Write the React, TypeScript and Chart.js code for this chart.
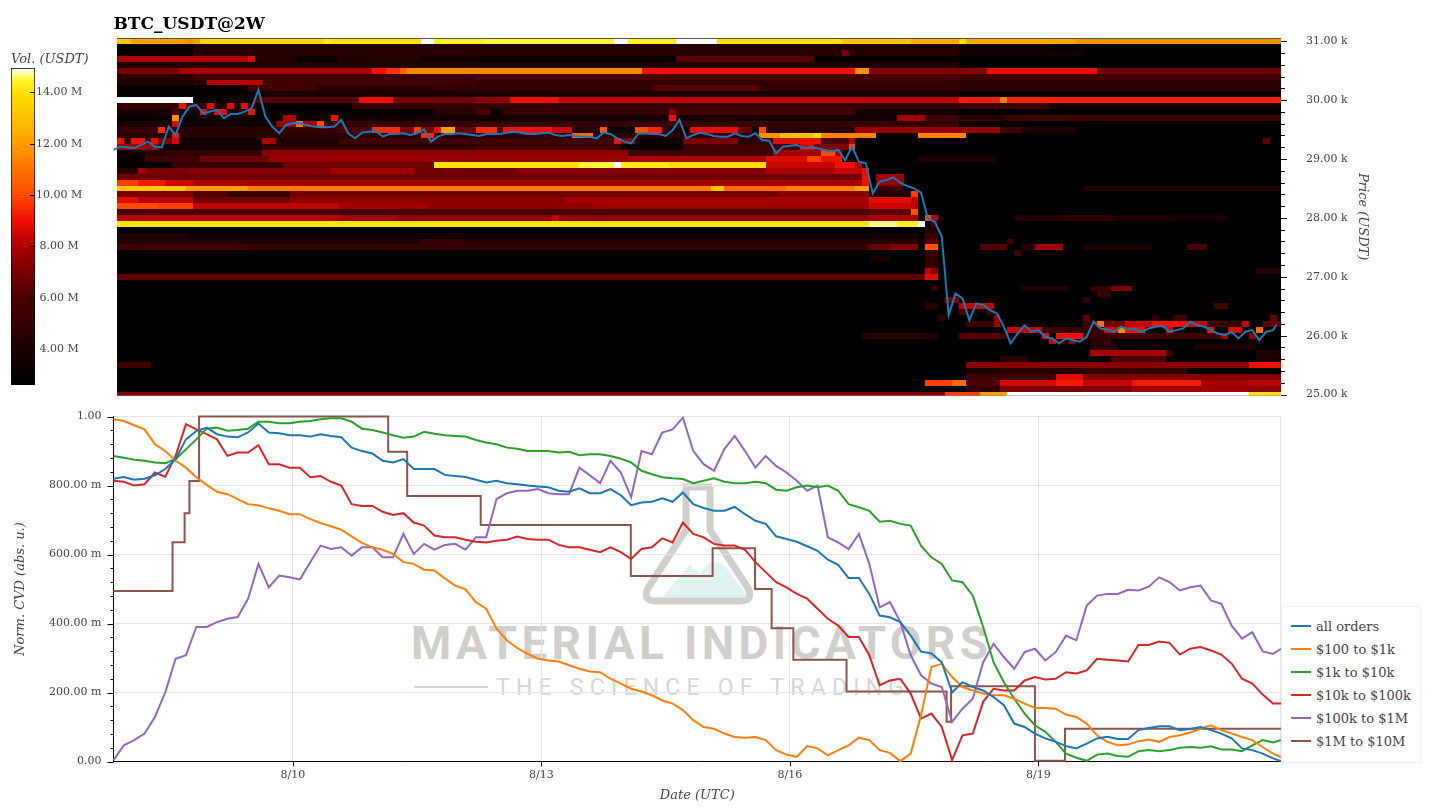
import { useEffect, useRef } from 'react';
import { Chart, registerables } from 'chart.js';

Chart.register(...registerables);

const SERIF = '"DejaVu Serif", serif';
const TEXT = '#444';

// hours since 8/10 00:00 (UTC)
const HOUR_MIN = -52;
const HOUR_MAX = 286.3;
const DATE_TICKS = [0, 72, 144, 216];
const DATE_LABELS = ['8/10', '8/13', '8/16', '8/19'];

const PRICE = [
  29154, 29210, 29199, 29182, 29239, 29295, 29210, 29199, 29551, 29409,
  29721, 29891, 29919, 29777, 29806, 29834, 29692, 29766, 29766, 29806,
  29862, 30174, 29721, 29551, 29437, 29579, 29607, 29607, 29579, 29551,
  29539, 29539, 29551, 29664, 29437, 29352, 29448, 29465, 29482, 29380,
  29426, 29426, 29437, 29409, 29437, 29505, 29295, 29380, 29426, 29426,
  29437, 29426, 29409, 29392, 29426, 29426, 29426, 29448, 29465, 29448,
  29426, 29426, 29437, 29448, 29409, 29392, 29409, 29392, 29380, 29380,
  29352, 29448, 29426, 29352, 29295, 29267, 29426, 29437, 29426, 29426,
  29392, 29494, 29664, 29352, 29409, 29448, 29426, 29392, 29380, 29380,
  29437, 29392, 29380, 29437, 29324, 29312, 29097, 29210, 29227, 29239,
  29182, 29199, 29182, 29154, 29125, 29154, 28984, 29210, 28955, 28927,
  28417, 28615, 28643, 28689, 28598, 28541, 28502, 28428, 27991, 27935,
  27679, 26349, 26718, 26633, 26264, 26548, 26519, 26434, 26377, 26151,
  25867, 26037, 26179, 26066, 26094, 25981, 25952, 25867, 25952, 25924,
  25896, 25981, 26236, 26122, 26105, 26066, 26151, 26105, 26111, 26066,
  26122, 26151, 26162, 26066, 26094, 26122, 26236, 26179, 26151, 26094,
  26037, 26009, 26066, 25952, 26066, 26094, 25924, 26066, 26094, 26190,
];
const PRICE_HOURS = PRICE.map((_, k) => (k < PRICE.length - 1 ? HOUR_MIN + 2 * k : 285));
const PRICE_TICKS = [
  25000, 25200, 25400, 25600, 25800, 26000, 26200, 26400, 26600, 26800, 27000, 27200, 27400, 27600, 27800, 28000,
  28200, 28400, 28600, 28800, 29000, 29200, 29400, 29600, 29800, 30000, 30200, 30400, 30600, 30800, 31000,
];

// colour bar of the heatmap, in millions of USDT
const VOL_MIN = 2.6;
const VOL_MAX = 14.95;
const VOL_TICKS = [4, 6, 8, 10, 12, 14];
const VOL_LEVELS = [2.6, 4, 6, 8, 9, 10, 12, 14, 14.45, 14.95];
const VOL_COLORS = [
  [0, 0, 0], [30, 0, 0], [74, 0, 0], [172, 0, 0], [238, 16, 0],
  [255, 74, 0], [255, 158, 0], [255, 226, 0], [255, 244, 40], [255, 255, 255],
];

// heatmap: one row per price, each row is flat [fromColumn, toColumn, vol] runs
const HEAT_START = -51;
const HEAT_COL_HOURS = 2;
const HEAT_COLS = 169;
const HEAT_PRICES = [
  31000, 30900, 30800, 30700, 30600, 30500, 30400, 30300, 30200, 30100,
  30000, 29900, 29800, 29700, 29600, 29500, 29400, 29300, 29200, 29100,
  29000, 28900, 28800, 28700, 28600, 28500, 28400, 28300, 28200, 28100,
  28000, 27900, 27800, 27700, 27600, 27500, 27400, 27300, 27200, 27100,
  27000, 26900, 26800, 26700, 26600, 26500, 26400, 26300, 26200, 26100,
  26000, 25900, 25800, 25700, 25600, 25500, 25400, 25300, 25200, 25100, 25000,
];
const HEAT_RUNS = [
  [0, 2, 13.2, 2, 10, 12, 10, 11, 11.7, 11, 12, 12, 12, 30, 13.6, 30, 31, 14.3, 31, 44, 14, 44, 46, 15, 46, 53, 14.4, 53, 72, 14.5, 72, 74, 15, 74, 81, 14.4, 81, 87, 15, 87, 105, 13.9, 105, 115, 13, 115, 122, 12.3, 122, 123, 14, 123, 139, 12.2, 139, 169, 11.7],
  [0, 11, 3, 11, 122, 4.2, 122, 135, 3.5],
  [0, 11, 3, 11, 105, 4.5, 105, 106, 7, 106, 122, 4.5, 122, 140, 3.5],
  [0, 19, 8, 19, 20, 8.7, 20, 26, 4.5, 26, 32, 3.2, 32, 44, 4.3, 44, 52, 3.5, 52, 81, 3.2, 81, 101, 6.3, 101, 122, 3],
  [0, 122, 4.2],
  [0, 9, 7, 9, 37, 8, 37, 39, 9, 39, 41, 9.6, 41, 42, 10.6, 42, 76, 11.5, 76, 107, 9, 107, 109, 11.7, 109, 126, 7.2, 126, 142, 8.9, 142, 169, 6.8],
  [0, 11, 4.5, 11, 52, 5.5, 52, 80, 6, 80, 122, 5.8, 122, 169, 5.6],
  [0, 13, 4.3, 13, 21, 8.2, 21, 52, 5.5, 52, 122, 5, 122, 169, 4.8],
  [0, 19, 3, 19, 29, 5.5, 29, 46, 4.5, 46, 78, 5, 78, 93, 6.3, 93, 122, 4.8, 122, 169, 4.6],
  [0, 21, 3, 21, 122, 3.8, 122, 169, 3],
  [0, 11, 15, 11, 20, 3, 20, 35, 6.2, 35, 40, 9, 40, 52, 6.8, 52, 57, 7.4, 57, 64, 9, 64, 122, 8.3, 122, 128, 9.2, 128, 129, 11.3, 129, 169, 9.3],
  [0, 9, 5, 9, 10, 9, 10, 13, 5, 13, 14, 8.8, 14, 16, 4, 16, 17, 8.8, 17, 18, 4, 18, 19, 8.8, 19, 20, 5, 20, 34, 3, 34, 122, 5, 122, 135, 5.3, 135, 169, 3.8],
  [0, 8, 3.8, 8, 9, 6, 9, 12, 3.5, 12, 13, 8.8, 13, 14, 3.5, 14, 16, 8.8, 16, 19, 3.5, 19, 20, 9, 20, 46, 3, 46, 52, 4.5, 52, 54, 6, 54, 56, 3, 56, 80, 5, 80, 81, 7.2, 81, 107, 5.5, 107, 122, 3.5],
  [0, 8, 3, 8, 9, 11.7, 9, 24, 3, 24, 26, 8, 26, 31, 3.5, 31, 32, 9, 32, 80, 3.5, 80, 81, 9, 81, 113, 3.5, 113, 117, 7.8, 117, 122, 5.5, 122, 129, 4.5, 129, 169, 5.5],
  [0, 8, 4, 8, 9, 8.6, 9, 23, 3.5, 23, 26, 7.4, 26, 27, 11, 27, 29, 7.6, 29, 30, 10, 30, 122, 5],
  [0, 6, 5, 6, 7, 9.5, 7, 23, 4.5, 23, 32, 5, 32, 37, 6, 37, 41, 9.5, 41, 43, 7, 43, 44, 9.8, 44, 46, 7, 46, 47, 9, 47, 49, 12, 49, 52, 6.5, 52, 55, 9.5, 55, 56, 6, 56, 63, 9, 63, 66, 8.5, 66, 70, 4.5, 70, 71, 10.3, 71, 75, 3, 75, 77, 10.2, 77, 79, 9.4, 79, 80, 5, 80, 83, 3.5, 83, 90, 8.9, 90, 92, 6.5, 92, 93, 3, 93, 94, 10, 94, 107, 4.5, 107, 128, 7.6, 128, 131, 5.5, 131, 139, 4],
  [0, 8, 4.5, 8, 9, 9, 9, 44, 4.5, 44, 46, 9.5, 46, 66, 4.5, 66, 69, 10.8, 69, 93, 4.5, 93, 96, 11.7, 96, 101, 13, 101, 102, 14, 102, 110, 11.3, 116, 123, 11.3],
  [0, 1, 9, 1, 2, 5, 2, 4, 9, 4, 5, 5, 5, 6, 9, 6, 8, 7, 8, 9, 8.5, 9, 21, 3.5, 21, 23, 8, 23, 32, 4, 32, 72, 5.5, 72, 73, 9, 73, 75, 7, 75, 82, 3.2, 82, 90, 7, 90, 92, 4.5, 92, 95, 5, 95, 99, 8.8, 99, 102, 9, 102, 106, 6, 106, 107, 8, 166, 167, 6.5],
  [0, 6, 7.5, 6, 21, 3.5, 21, 52, 4.8, 52, 73, 5.5, 73, 82, 3, 82, 99, 5.5, 99, 101, 8.7, 101, 106, 7, 106, 107, 9.8],
  [0, 4, 3.5, 4, 7, 4.5, 7, 21, 5, 21, 74, 7.4, 74, 95, 5.5, 95, 102, 7.8, 102, 104, 10, 104, 105, 7.8, 105, 107, 3],
  [0, 4, 3, 4, 12, 5.5, 12, 22, 6.8, 22, 74, 7.6, 74, 94, 8, 94, 100, 8.7, 100, 102, 9.8, 102, 105, 9, 116, 127, 4],
  [0, 8, 3, 8, 24, 5, 24, 46, 6.8, 46, 67, 14, 67, 72, 14.5, 72, 73, 15, 73, 80, 14.2, 80, 94, 13.8, 94, 104, 8.4, 104, 107, 9, 107, 108, 8],
  [0, 3, 4.5, 3, 4, 8, 4, 10, 7, 10, 31, 7.2, 31, 43, 7.8, 43, 58, 6.8, 58, 94, 7.2, 94, 104, 8, 104, 108, 8.4, 108, 109, 9],
  [0, 108, 6.8, 108, 109, 9, 110, 114, 7.8],
  [0, 3, 9.8, 3, 7, 9.2, 7, 11, 8.5, 11, 19, 8, 19, 108, 7.9, 108, 109, 9, 110, 114, 7.4],
  [0, 10, 13.2, 10, 19, 12, 19, 86, 11.2, 86, 88, 13.2, 88, 97, 10.7, 97, 107, 11.3, 107, 109, 12, 110, 114, 5.5, 140, 169, 4.3],
  [0, 11, 7, 11, 16, 6.2, 16, 25, 5, 25, 96, 6.8, 96, 109, 7.2, 109, 115, 4, 115, 116, 9.8],
  [0, 3, 8.8, 3, 11, 8.2, 11, 25, 6.8, 25, 65, 7.4, 65, 109, 7.9, 109, 115, 8.8, 115, 116, 8.2],
  [0, 6, 10, 6, 11, 9.8, 11, 32, 8.3, 32, 45, 7.8, 45, 69, 7.4, 69, 109, 7.7, 109, 115, 8.5, 115, 116, 8.2],
  [0, 109, 5.8, 109, 115, 6.3, 115, 116, 10.2],
  [0, 32, 8.1, 32, 40, 7.8, 40, 63, 7.4, 63, 64, 8.3, 64, 109, 7.4, 109, 116, 8, 117, 118, 10, 118, 119, 8, 130, 137, 4.3, 137, 144, 4.8, 144, 153, 4, 153, 161, 3.8],
  [0, 109, 14.1, 109, 113, 14.7, 113, 116, 14.4, 116, 117, 15, 118, 119, 6],
  [117, 119, 4],
  [0, 10, 4.2, 10, 116, 3.6, 117, 119, 5.2],
  [0, 44, 4.2, 44, 50, 5, 50, 116, 4.4, 116, 117, 4, 117, 119, 6.2, 129, 130, 5.5],
  [0, 19, 5.5, 19, 109, 5, 109, 112, 6.5, 112, 116, 7.2, 117, 119, 10.2, 125, 129, 6.2, 131, 133, 4.3, 133, 137, 7.7, 140, 150, 4, 155, 158, 6],
  [117, 119, 5.2, 130, 131, 5.5],
  [109, 112, 3.8, 117, 119, 4.8],
  [117, 119, 5],
  [117, 118, 8.3, 118, 119, 7.2, 165, 169, 4.4],
  [0, 117, 6.5, 117, 119, 8.8],
  [],
  [118, 119, 5.5, 131, 138, 4, 141, 144, 5, 144, 147, 7],
  [142, 144, 5.2],
  [120, 122, 7, 140, 141, 5],
  [117, 119, 4.4, 122, 127, 8.3, 159, 161, 5.5],
  [122, 123, 6, 126, 127, 5.5],
  [119, 120, 5, 127, 128, 7.8, 140, 141, 6.5, 150, 151, 4.8, 153, 155, 5.5, 167, 168, 6.5],
  [123, 127, 5.2, 127, 128, 7.8, 140, 142, 5.5, 142, 143, 10.8, 143, 146, 6.8, 146, 150, 8.4, 150, 155, 9, 155, 158, 8.4, 158, 163, 5, 163, 164, 8.3, 166, 169, 6.5],
  [129, 134, 8.3, 134, 143, 5, 143, 145, 8.6, 145, 146, 11.7, 146, 149, 9, 152, 153, 8.6, 158, 159, 9, 161, 163, 8.7, 165, 166, 10.8],
  [108, 119, 4.4, 122, 128, 6.3, 128, 129, 5.5, 134, 135, 8.8, 136, 140, 9, 140, 145, 5, 145, 160, 5.5, 160, 161, 7.8, 164, 165, 7.2],
  [135, 136, 8.3, 138, 139, 7.2, 141, 143, 4.4, 143, 144, 5.5],
  [141, 145, 4.2, 156, 165, 3.9],
  [141, 152, 7.9, 152, 153, 5.3, 165, 169, 4],
  [128, 132, 4.5, 144, 152, 6, 165, 169, 4],
  [0, 5, 5.5, 123, 164, 7.3, 164, 169, 9],
  [123, 128, 3.8, 128, 140, 4.5, 140, 155, 5],
  [123, 136, 5.5, 136, 140, 8.8, 140, 169, 7.2],
  [117, 121, 9.8, 121, 123, 10.8, 123, 128, 6, 128, 136, 8.6, 136, 140, 9.2, 140, 147, 8.4, 147, 157, 9.2, 157, 164, 7.8, 164, 169, 8.2],
  [123, 128, 4.8, 128, 147, 7, 147, 164, 7.8, 164, 169, 7.4],
  [0, 120, 7.2, 120, 125, 9.8, 125, 129, 12, 129, 164, 15, 164, 169, 14],
];

// normalised CVD, sampled every 3 hours
const ALL_ORDERS = [
  .82, .825, .817, .82, .83, .848, .877, .934, .958, .968,
  .949, .942, .94, .954, .98, .954, .952, .946, .946, .942,
  .949, .944, .94, .91, .9, .893, .872, .867, .877, .848,
  .848, .848, .831, .828, .825, .817, .809, .814, .807, .804,
  .8, .797, .795, .785, .782, .792, .778, .778, .79, .772,
  .743, .751, .753, .763, .753, .78, .746, .735, .727, .727,
  .738, .717, .698, .689, .653, .645, .637, .624, .611, .585,
  .57, .532, .532, .486, .423, .418, .404, .365, .319, .313,
  .288, .2, .23, .216, .206, .187, .163, .11, .1, .081,
  .067, .057, .045, .038, .052, .067, .072, .065, .065, .091,
  .097, .102, .102, .091, .094, .1, .091, .081, .067, .038,
  .033, .023, .009, .001,
];
const USD_100_1K = [
  .992, .987, .975, .963, .92, .9, .872, .852, .824, .802,
  .782, .775, .761, .746, .743, .734, .727, .717, .717, .703,
  .691, .682, .672, .653, .634, .621, .614, .602, .578, .573,
  .556, .554, .531, .51, .499, .462, .443, .385, .351, .329,
  .312, .298, .293, .29, .279, .269, .261, .259, .24, .226,
  .211, .203, .192, .177, .168, .149, .12, .1, .095, .081,
  .071, .069, .071, .062, .033, .02, .0135, .045, .038, .018,
  .033, .047, .069, .062, .033, .025, .001, .023, .134, .274,
  .283, .245, .216, .206, .197, .192, .192, .182, .168, .155,
  .155, .153, .136, .129, .11, .076, .057, .047, .049, .059,
  .064, .057, .071, .076, .084, .095, .105, .091, .081, .071,
  .062, .042, .023, .013,
];
const USD_1K_10K = [
  .886, .881, .875, .872, .867, .865, .877, .905, .934, .965,
  .968, .959, .961, .965, .985, .985, .981, .981, .985, .987,
  .992, .995, .995, .985, .965, .961, .954, .946, .939, .942,
  .956, .95, .946, .944, .942, .932, .925, .92, .91, .907,
  .9, .9, .9, .896, .898, .888, .891, .891, .886, .878,
  .867, .843, .833, .824, .821, .819, .807, .814, .821, .811,
  .807, .807, .811, .807, .788, .785, .795, .8, .795, .8,
  .785, .746, .737, .727, .695, .698, .689, .684, .626, .592,
  .573, .525, .52, .481, .39, .288, .23, .182, .139, .105,
  .086, .057, .023, .011, .002, .02, .023, .016, .0135, .03,
  .033, .03, .033, .04, .042, .04, .044, .035, .035, .03,
  .047, .062, .055, .062,
];
const USD_10K_100K = [
  .814, .811, .8, .804, .838, .826, .886, .978, .963, .949,
  .934, .886, .896, .896, .917, .862, .862, .852, .852, .824,
  .828, .811, .8, .746, .741, .741, .724, .715, .72, .693,
  .684, .655, .65, .65, .643, .637, .635, .64, .643, .652,
  .645, .643, .643, .628, .621, .621, .614, .607, .621, .607,
  .587, .616, .621, .647, .635, .693, .66, .65, .631, .626,
  .626, .614, .578, .549, .52, .505, .486, .472, .443, .414,
  .394, .361, .361, .308, .221, .235, .24, .197, .124, .139,
  .1, .004, .076, .081, .173, .211, .206, .206, .235, .245,
  .238, .24, .259, .255, .264, .298, .295, .293, .29, .338,
  .338, .348, .344, .31, .327, .332, .322, .31, .284, .24,
  .226, .194, .168, .168,
];
const USD_100K_1M = [
  .004, .047, .062, .081, .129, .2, .298, .308, .39, .39,
  .404, .414, .419, .472, .573, .505, .539, .534, .528, .578,
  .626, .616, .621, .597, .621, .621, .592, .592, .66, .602,
  .631, .614, .628, .631, .614, .65, .65, .761, .778, .785,
  .785, .79, .778, .775, .775, .852, .83, .807, .872, .838,
  .766, .9, .891, .954, .963, .997, .9, .862, .843, .906,
  .944, .9, .852, .886, .857, .838, .814, .785, .8, .65,
  .635, .616, .66, .573, .447, .462, .404, .308, .25, .226,
  .216, .115, .153, .182, .288, .341, .303, .269, .317, .327,
  .293, .317, .365, .351, .452, .481, .486, .486, .498, .496,
  .507, .534, .52, .496, .505, .51, .467, .457, .394, .356,
  .375, .319, .312, .327,
];
const CVD_HOURS = ALL_ORDERS.map((_, k) => (k < ALL_ORDERS.length - 1 ? HOUR_MIN + 3 * k : HOUR_MAX));

// the largest bucket moves in plateaus: hour each level starts, and the level
const USD_1M_10M_HOURS = [-52, -34.9, -31.4, -30, -27.2, 27.6, 33.1, 54.4, 97.9, 121.6, 133.9, 138.7, 145, 160.4, 189.4, 190.7, 215, 223.7, 286.3];
const USD_1M_10M = [.494, .636, .72, .813, 1, .898, .77, .686, .538, .618, .5, .386, .295, .203, .115, .218, .002, .095, .095];

const CVD_TICKS = [
  0, .04, .08, .12, .16, .2, .24, .28, .32, .36, .4, .44, .48, .52, .56, .6, .64, .68, .72, .76, .8, .84, .88, .92, .96, 1,
];

const SERIES_NAMES = ['all orders', '$100 to $1k', '$1k to $10k', '$10k to $100k', '$100k to $1M', '$1M to $10M'];
const SERIES_COLORS = ['#1f77b4', '#ff7f0e', '#2ca02c', '#d62728', '#9467bd', '#8c564b'];

const points = (xs: number[], ys: number[]) => ys.map((y, i) => ({ x: xs[i], y }));

function volColor(value: number) {
  const v = Math.min(value, VOL_MAX);
  let i = VOL_LEVELS.findIndex((l) => l >= v);
  if (i <= 0) i = 1;
  const t = (v - VOL_LEVELS[i - 1]) / (VOL_LEVELS[i] - VOL_LEVELS[i - 1]);
  const c = VOL_COLORS[i - 1].map((a, k) => Math.round(a + (VOL_COLORS[i][k] - a) * t));
  return `rgb(${c[0]},${c[1]},${c[2]})`;
}

// short minor and long major tick marks, chart.js only has one length
function tickMarks(axis: string, dir: number, major: number, minor: number, isMajor: (v: number) => boolean) {
  return {
    id: `marks-${axis}`,
    afterDraw(chart: any) {
      const { ctx } = chart;
      const s = chart.scales[axis];
      ctx.save();
      ctx.strokeStyle = '#000';
      ctx.lineWidth = 1;
      ctx.beginPath();
      s.ticks.forEach((t: any) => {
        const len = isMajor(t.value) ? major : minor;
        if (!len) return;
        const p = Math.round(s.getPixelForValue(t.value)) + 0.5;
        if (s.isHorizontal()) {
          ctx.moveTo(p, s.top);
          ctx.lineTo(p, s.top + dir * len);
        } else {
          const edge = s.position === 'left' ? s.right : s.left;
          ctx.moveTo(edge, p);
          ctx.lineTo(edge + dir * len, p);
        }
      });
      ctx.stroke();
      ctx.restore();
    },
  };
}

const heatCells = {
  id: 'heatCells',
  beforeDatasetsDraw(chart: any) {
    const { ctx, chartArea: a, scales } = chart;
    const { x, y } = scales;
    const colX = (c: number) => Math.round(x.getPixelForValue(HEAT_START + c * HEAT_COL_HOURS));
    ctx.save();
    ctx.beginPath();
    ctx.rect(a.left, a.top, a.width, a.height);
    ctx.clip();
    HEAT_PRICES.forEach((price, i) => {
      const top = Math.round(y.getPixelForValue(price + 50));
      const bottom = Math.round(y.getPixelForValue(price - 50));
      ctx.fillStyle = volColor(VOL_MIN);
      ctx.fillRect(colX(0), top, colX(HEAT_COLS) - colX(0), bottom - top);
      const runs = HEAT_RUNS[i];
      for (let r = 0; r < runs.length; r += 3) {
        ctx.fillStyle = volColor(runs[r + 2]);
        ctx.fillRect(colX(runs[r]), top, colX(runs[r + 1]) - colX(runs[r]), bottom - top);
      }
    });
    ctx.restore();
    ctx.strokeStyle = '#555';
    ctx.beginPath();
    ctx.moveTo(colX(0), a.top + 0.5);
    ctx.lineTo(a.right, a.top + 0.5);
    ctx.stroke();
  },
};

const plotEdge = {
  id: 'plotEdge',
  beforeDatasetsDraw(chart: any) {
    const { ctx, chartArea: a } = chart;
    ctx.save();
    ctx.strokeStyle = '#e5e5e5';
    ctx.beginPath();
    ctx.moveTo(a.right - 0.5, a.top);
    ctx.lineTo(a.right - 0.5, a.bottom);
    ctx.stroke();
    ctx.restore();
  },
};

function PricePanel() {
  const ref = useRef<HTMLCanvasElement>(null);
  useEffect(() => {
    if (!ref.current) return;
    const chart = new Chart(ref.current, {
      type: 'line',
      data: {
        datasets: [
          {
            data: points(PRICE_HOURS, PRICE),
            borderColor: '#1f77b4',
            borderWidth: 2,
            pointRadius: 0,
            tension: 0,
          },
        ],
      },
      options: {
        animation: false,
        responsive: false,
        layout: { autoPadding: false, padding: { left: 113.5, right: 70.2, top: 0, bottom: 15 } },
        plugins: {
          legend: { display: false },
          tooltip: { enabled: false },
          title: {
            display: true,
            text: 'BTC_USDT@2W',
            align: 'start',
            color: '#000',
            font: { family: SERIF, size: 17, weight: 'bold' },
            padding: { top: 14.8, bottom: 2.8 },
          },
        },
        scales: {
          x: { type: 'linear', min: HOUR_MIN, max: HOUR_MAX, display: false },
          y: {
            type: 'linear',
            position: 'right',
            min: 24985,
            max: 31056,
            afterBuildTicks: (s: any) => {
              s.ticks = PRICE_TICKS.map((value) => ({ value }));
            },
            afterFit: (s: any) => {
              s.width = 88.8;
            },
            grid: { display: false, drawTicks: false },
            border: { display: false },
            ticks: {
              autoSkip: false,
              padding: 25,
              color: TEXT,
              font: { family: SERIF, size: 11 },
              callback: (v: any) => (v % 1000 === 0 ? `${(v / 1000).toFixed(2)} k` : ''),
            },
            title: {
              display: true,
              text: 'Price (USDT)',
              color: TEXT,
              padding: 0,
              font: { family: SERIF, size: 13, style: 'italic' },
            },
          },
        },
      },
      plugins: [heatCells, tickMarks('y', 1, 6, 4, (v) => v % 1000 === 0)],
    } as any);
    return () => chart.destroy();
  }, []);
  return <canvas ref={ref} width={1440} height={427} style={{ position: 'absolute', left: 0, top: 0 }} />;
}

function VolumeBar() {
  const ref = useRef<HTMLCanvasElement>(null);
  useEffect(() => {
    if (!ref.current) return;
    const chart = new Chart(ref.current, {
      type: 'bar',
      data: {
        labels: ['Vol.'],
        datasets: [
          {
            data: [[VOL_MIN, VOL_MAX]],
            barPercentage: 1,
            categoryPercentage: 1,
            borderColor: '#000',
            borderWidth: 1,
            borderSkipped: false,
            backgroundColor: (c: any) => {
              const { chartArea, scales, ctx } = c.chart;
              if (!chartArea) return '#000';
              const g = ctx.createLinearGradient(0, chartArea.bottom, 0, chartArea.top);
              VOL_LEVELS.forEach((l) => {
                g.addColorStop((scales.y.getPixelForValue(l) - chartArea.bottom) / (chartArea.top - chartArea.bottom), volColor(l));
              });
              return g;
            },
          },
        ],
      },
      options: {
        animation: false,
        responsive: false,
        layout: { autoPadding: false, padding: { left: 11, right: 0, top: 0, bottom: 15 } },
        plugins: {
          legend: { display: false },
          tooltip: { enabled: false },
          title: {
            display: true,
            text: 'Vol. (USDT)',
            align: 'start',
            color: TEXT,
            font: { family: SERIF, size: 13, style: 'italic', weight: 'normal' },
            padding: { top: 12, bottom: 0.4 },
          },
        },
        scales: {
          x: { display: false },
          y: {
            type: 'linear',
            position: 'right',
            min: VOL_MIN,
            max: VOL_MAX,
            afterBuildTicks: (s: any) => {
              s.ticks = VOL_TICKS.map((value) => ({ value }));
            },
            afterFit: (s: any) => {
              s.width = 75;
            },
            grid: { display: false, drawTicks: false },
            border: { display: false },
            ticks: {
              autoSkip: false,
              padding: 1,
              crossAlign: 'center',
              color: TEXT,
              font: { family: SERIF, size: 11 },
              callback: (v: any) => `${Number(v).toFixed(2)} M`,
            },
          },
        },
      },
      plugins: [tickMarks('y', -1, 5, 0, () => true)],
    } as any);
    return () => chart.destroy();
  }, []);
  return <canvas ref={ref} width={110} height={360} style={{ position: 'absolute', left: 0, top: 40 }} />;
}

function CvdPanel() {
  const ref = useRef<HTMLCanvasElement>(null);
  const isMajorCvd = (v: number) => Math.round(v * 1000) % 200 === 0;
  useEffect(() => {
    if (!ref.current) return;
    const curves = [ALL_ORDERS, USD_100_1K, USD_1K_10K, USD_10K_100K, USD_100K_1M];
    const base = { borderWidth: 2, pointRadius: 0, tension: 0, clip: false };
    const chart = new Chart(ref.current, {
      type: 'line',
      data: {
        datasets: [
          ...curves.map((ys, i) => ({
            ...base,
            label: SERIES_NAMES[i],
            borderColor: SERIES_COLORS[i],
            data: points(CVD_HOURS, ys),
          })),
          {
            ...base,
            label: SERIES_NAMES[5],
            borderColor: SERIES_COLORS[5],
            stepped: true,
            data: points(USD_1M_10M_HOURS, USD_1M_10M),
          },
        ],
      },
      options: {
        animation: false,
        responsive: false,
        layout: { autoPadding: false, padding: { left: 13.2, right: 159, top: 0, bottom: 7 } },
        plugins: { legend: { display: false }, tooltip: { enabled: false } },
        scales: {
          x: {
            type: 'linear',
            min: HOUR_MIN,
            max: HOUR_MAX,
            afterBuildTicks: (s: any) => {
              s.ticks = DATE_TICKS.map((value) => ({ value }));
            },
            afterFit: (s: any) => {
              s.height = 41.5;
            },
            grid: { color: '#e5e5e5', drawTicks: false },
            border: { color: '#000' },
            ticks: {
              autoSkip: false,
              maxRotation: 0,
              padding: 7,
              color: TEXT,
              font: { family: SERIF, size: 11 },
              callback: (v: any) => DATE_LABELS[DATE_TICKS.indexOf(v)],
            },
            title: {
              display: true,
              text: 'Date (UTC)',
              color: TEXT,
              padding: 0,
              font: { family: SERIF, size: 13, style: 'italic' },
            },
          },
          y: {
            type: 'linear',
            min: 0,
            max: 1,
            afterBuildTicks: (s: any) => {
              s.ticks = CVD_TICKS.map((value) => ({ value }));
            },
            afterFit: (s: any) => {
              s.width = 100.3;
            },
            grid: {
              drawTicks: false,
              color: (c: any) => (c.tick && isMajorCvd(c.tick.value) ? '#e5e5e5' : 'transparent'),
            },
            border: { color: '#000' },
            ticks: {
              autoSkip: false,
              padding: 12,
              color: TEXT,
              font: { family: SERIF, size: 11 },
              callback: (v: any) => {
                if (!isMajorCvd(v)) return '';
                if (v === 0 || v === 1) return v.toFixed(2);
                return `${(v * 1000).toFixed(2)} m`;
              },
            },
            title: {
              display: true,
              text: 'Norm. CVD (abs. u.)',
              color: TEXT,
              padding: 0,
              font: { family: SERIF, size: 13, style: 'italic' },
            },
          },
        },
      },
      plugins: [plotEdge, tickMarks('x', 1, 5, 5, () => true), tickMarks('y', -1, 6, 3, isMajorCvd)],
    } as any);
    return () => chart.destroy();
  }, []);
  return <canvas ref={ref} width={1440} height={412} style={{ position: 'absolute', left: 0, top: 398 }} />;
}

function Legend() {
  return (
    <div
      style={{
        position: 'absolute',
        left: 1281,
        top: 606,
        width: 138,
        height: 155,
        border: '1px solid #eeeeee',
        background: '#fff',
        fontFamily: SERIF,
        fontSize: 13,
        color: TEXT,
      }}
    >
      {SERIES_NAMES.map((name, i) => (
        <div key={name} style={{ position: 'absolute', left: 9, top: 8 + i * 23, height: 23, whiteSpace: 'nowrap', lineHeight: '23px' }}>
          <span style={{ position: 'absolute', left: 0, top: 10, width: 20, height: 2, background: SERIES_COLORS[i] }} />
          <span style={{ marginLeft: 25 }}>{name}</span>
        </div>
      ))}
    </div>
  );
}

function Watermark() {
  return (
    <svg width={1440} height={810} style={{ position: 'absolute', left: 0, top: 0 }}>
      <path d="M660 600 Q700 552 690 566 L700 573 Q715 552 728 570 L748 597 L655 597 Z" fill="#dff3f3" />
      <path
        d="M683 487 L712 487 M686 487 L686 530 L648 588 Q642 601 656 601 L740 601 Q754 601 748 588 L710 530 L710 487"
        fill="none"
        stroke="#cfcfcc"
        strokeWidth={7}
      />
      <text x={411} y={659} textLength={577} lengthAdjust="spacing" fontFamily="Roboto" fontWeight={700} fontSize={46} fill="#d0cfcc">
        MATERIAL INDICATORS
      </text>
      <line x1={414} y1={687} x2={488} y2={687} stroke="#d4d4d1" strokeWidth={2} />
      <text x={496} y={695} textLength={408} lengthAdjust="spacing" fontFamily="Roboto" fontSize={23} fill="#d6d6d3">
        THE SCIENCE OF TRADING
      </text>
    </svg>
  );
}

export default function App() {
  return (
    <div style={{ position: 'absolute', left: 0, top: 0, width: 1440, height: 810, overflow: 'hidden', background: '#fff' }}>
      <Watermark />
      <PricePanel />
      <VolumeBar />
      <CvdPanel />
      <Legend />
    </div>
  );
}
